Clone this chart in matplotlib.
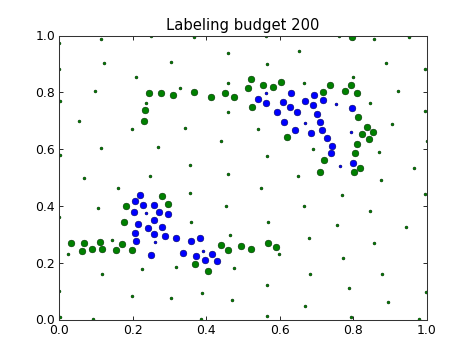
import matplotlib
matplotlib.use("Agg")
import matplotlib.pyplot as plt

title = "Labeling budget 200"
x_ticks = [0.0, 0.2, 0.4, 0.6, 0.8, 1.0]
y_ticks = [0.0, 0.2, 0.4, 0.6, 0.8, 1.0]

# small green points
green_small_x = [0.000, 0.115, 0.249, 0.121, 0.303, 0.000, 0.209, 0.097, 0.330, 0.002,
                 0.237, 0.055, 0.199, 0.342, 0.113, 0.270, 0.001, 0.067, 0.248, 0.368,
                 0.563, 0.459, 0.654, 0.566, 0.459, 0.666, 0.460, 0.542, 0.441, 0.566,
                 0.356, 0.460, 0.650, 0.762, 0.857, 0.951, 0.890, 0.995, 0.799, 0.922,
                 0.846, 0.997, 0.906, 0.690, 0.870, 0.967, 0.875, 1.000,
                 0.161, 0.106, 0.000, 0.144, 0.025, 0.117, 0.225, 0.318, 0.000, 0.198,
                 0.304, 0.003, 0.091, 0.356, 0.549, 0.454, 0.666, 0.360, 0.568, 0.464,
                 0.679, 0.597, 0.477, 0.682, 0.566, 0.388, 0.471, 0.669, 0.385, 0.566,
                 0.770, 0.995, 0.846, 0.757, 0.943, 0.857, 0.773, 0.878, 0.788, 0.999,
                 0.895, 0.793, 0.979]
green_small_y = [0.973, 0.989, 0.998, 0.902, 0.908, 0.881, 0.854, 0.806, 0.814, 0.771,
                 0.763, 0.699, 0.672, 0.673, 0.604, 0.608, 0.579, 0.499, 0.505, 0.996,
                 0.998, 0.939, 0.944, 0.901, 0.834, 0.834, 0.731, 0.672, 0.629, 0.575,
                 0.543, 0.511, 0.505, 0.998, 0.988, 0.994, 0.904, 0.881, 0.854, 0.806,
                 0.761, 0.733, 0.689, 0.600, 0.591, 0.535, 0.492, 0.629,
                 0.462, 0.391, 0.360, 0.280, 0.229, 0.160, 0.179, 0.186, 0.099, 0.081,
                 0.075, 0.009, 0.002, 0.447, 0.464, 0.401, 0.400, 0.345, 0.345, 0.297,
                 0.286, 0.231, 0.183, 0.159, 0.121, 0.093, 0.068, 0.048, 0.002, 0.011,
                 0.440, 0.441, 0.383, 0.333, 0.324, 0.268, 0.216, 0.161, 0.112, 0.098,
                 0.060, 0.008, 0.001]

# large green points
green_big_x = [0.245, 0.276, 0.310, 0.234, 0.232, 0.368, 0.413, 0.451, 0.477, 0.522,
               0.514, 0.554, 0.582, 0.605, 0.524, 0.621, 0.796, 0.736, 0.794, 0.777,
               0.810, 0.718, 0.813, 0.837, 0.853, 0.823, 0.843, 0.810, 0.805, 0.720,
               0.820, 0.710, 0.802,
               0.279, 0.297, 0.181, 0.177, 0.031, 0.067, 0.110, 0.170, 0.061, 0.090,
               0.116, 0.154, 0.198, 0.441, 0.460, 0.494, 0.522, 0.568, 0.589, 0.370,
               0.405]
green_big_y = [0.798, 0.798, 0.792, 0.736, 0.698, 0.800, 0.785, 0.798, 0.785, 0.847,
               0.814, 0.827, 0.817, 0.838, 0.749, 0.642, 0.996, 0.825, 0.827, 0.806,
               0.798, 0.802, 0.714, 0.679, 0.661, 0.654, 0.637, 0.618, 0.585, 0.560,
               0.535, 0.521, 0.518,
               0.435, 0.408, 0.401, 0.345, 0.271, 0.268, 0.274, 0.266, 0.241, 0.249,
               0.248, 0.246, 0.243, 0.262, 0.243, 0.259, 0.250, 0.270, 0.255, 0.197,
               0.171]

# large blue points
blue_big_x = [0.540, 0.563, 0.630, 0.610, 0.628, 0.670, 0.592, 0.647, 0.611, 0.641,
              0.686, 0.694, 0.719, 0.690, 0.703, 0.710, 0.716, 0.728, 0.742, 0.740,
              0.798, 0.799,
              0.221, 0.205, 0.228, 0.258, 0.203, 0.272, 0.297, 0.214, 0.257, 0.242,
              0.281, 0.205, 0.258, 0.287, 0.209, 0.318, 0.249, 0.337, 0.358, 0.383,
              0.372, 0.416, 0.398, 0.430]
blue_big_y = [0.777, 0.763, 0.797, 0.765, 0.747, 0.771, 0.731, 0.732, 0.696, 0.666,
              0.656, 0.792, 0.774, 0.754, 0.725, 0.694, 0.666, 0.638, 0.612, 0.585,
              0.745, 0.550,
              0.440, 0.416, 0.403, 0.403, 0.377, 0.380, 0.373, 0.338, 0.351, 0.322,
              0.324, 0.306, 0.301, 0.293, 0.277, 0.287, 0.227, 0.235, 0.278, 0.287,
              0.222, 0.231, 0.209, 0.207]

# small blue points
blue_small_x = [0.562, 0.670, 0.754, 0.794, 0.763, 0.237, 0.260, 0.391]
blue_small_y = [0.798, 0.692, 0.759, 0.661, 0.541, 0.375, 0.274, 0.241]

plt.rcParams['font.family'] = ['DejaVu Sans']
plt.rcParams['xtick.direction'] = 'in'
plt.rcParams['ytick.direction'] = 'in'
plt.rcParams['xtick.top'] = True
plt.rcParams['ytick.right'] = True
plt.rcParams['xtick.major.size'] = 4
plt.rcParams['ytick.major.size'] = 4
plt.rcParams['xtick.major.pad'] = 4
plt.rcParams['ytick.major.pad'] = 4

dpi = 474 / 6.4
fig = plt.figure(figsize=(6.4, 355 / dpi), dpi=dpi)
ax = fig.add_axes([0.125, 0.1, 0.775, 0.8])

green = (0.0, 0.5, 0.0)
blue = (0.0, 0.0, 1.0)
edge = (0.0, 0.15, 0.0)
ax.plot(green_small_x, green_small_y, 'o', markerfacecolor=green,
        markeredgecolor=edge, markersize=2.8, markeredgewidth=0.5, linestyle='none')
ax.plot(blue_small_x, blue_small_y, 'o', markerfacecolor=blue,
        markeredgecolor=(0.0, 0.0, 0.3), markersize=2.8, markeredgewidth=0.5,
        linestyle='none')
ax.plot(green_big_x, green_big_y, 'o', markerfacecolor=green,
        markeredgecolor=edge, markersize=6.5, markeredgewidth=0.5, linestyle='none')
ax.plot(blue_big_x, blue_big_y, 'o', markerfacecolor=blue,
        markeredgecolor=(0.0, 0.0, 0.3), markersize=6.5, markeredgewidth=0.5,
        linestyle='none')

ax.set_xlim(0, 1)
ax.set_ylim(0, 1)
ax.set_xticks(x_ticks)
ax.set_yticks(y_ticks)
ax.set_xticklabels([f"{t:.1f}" for t in x_ticks])
ax.set_yticklabels([f"{t:.1f}" for t in y_ticks])
ax.tick_params(labelsize=12)
for s in ax.spines.values():
    s.set_linewidth(1.0)
    s.set_color('#333333')
ax.set_title(title, fontsize=14.4, pad=5)

fig.savefig("out.png", dpi=dpi)
